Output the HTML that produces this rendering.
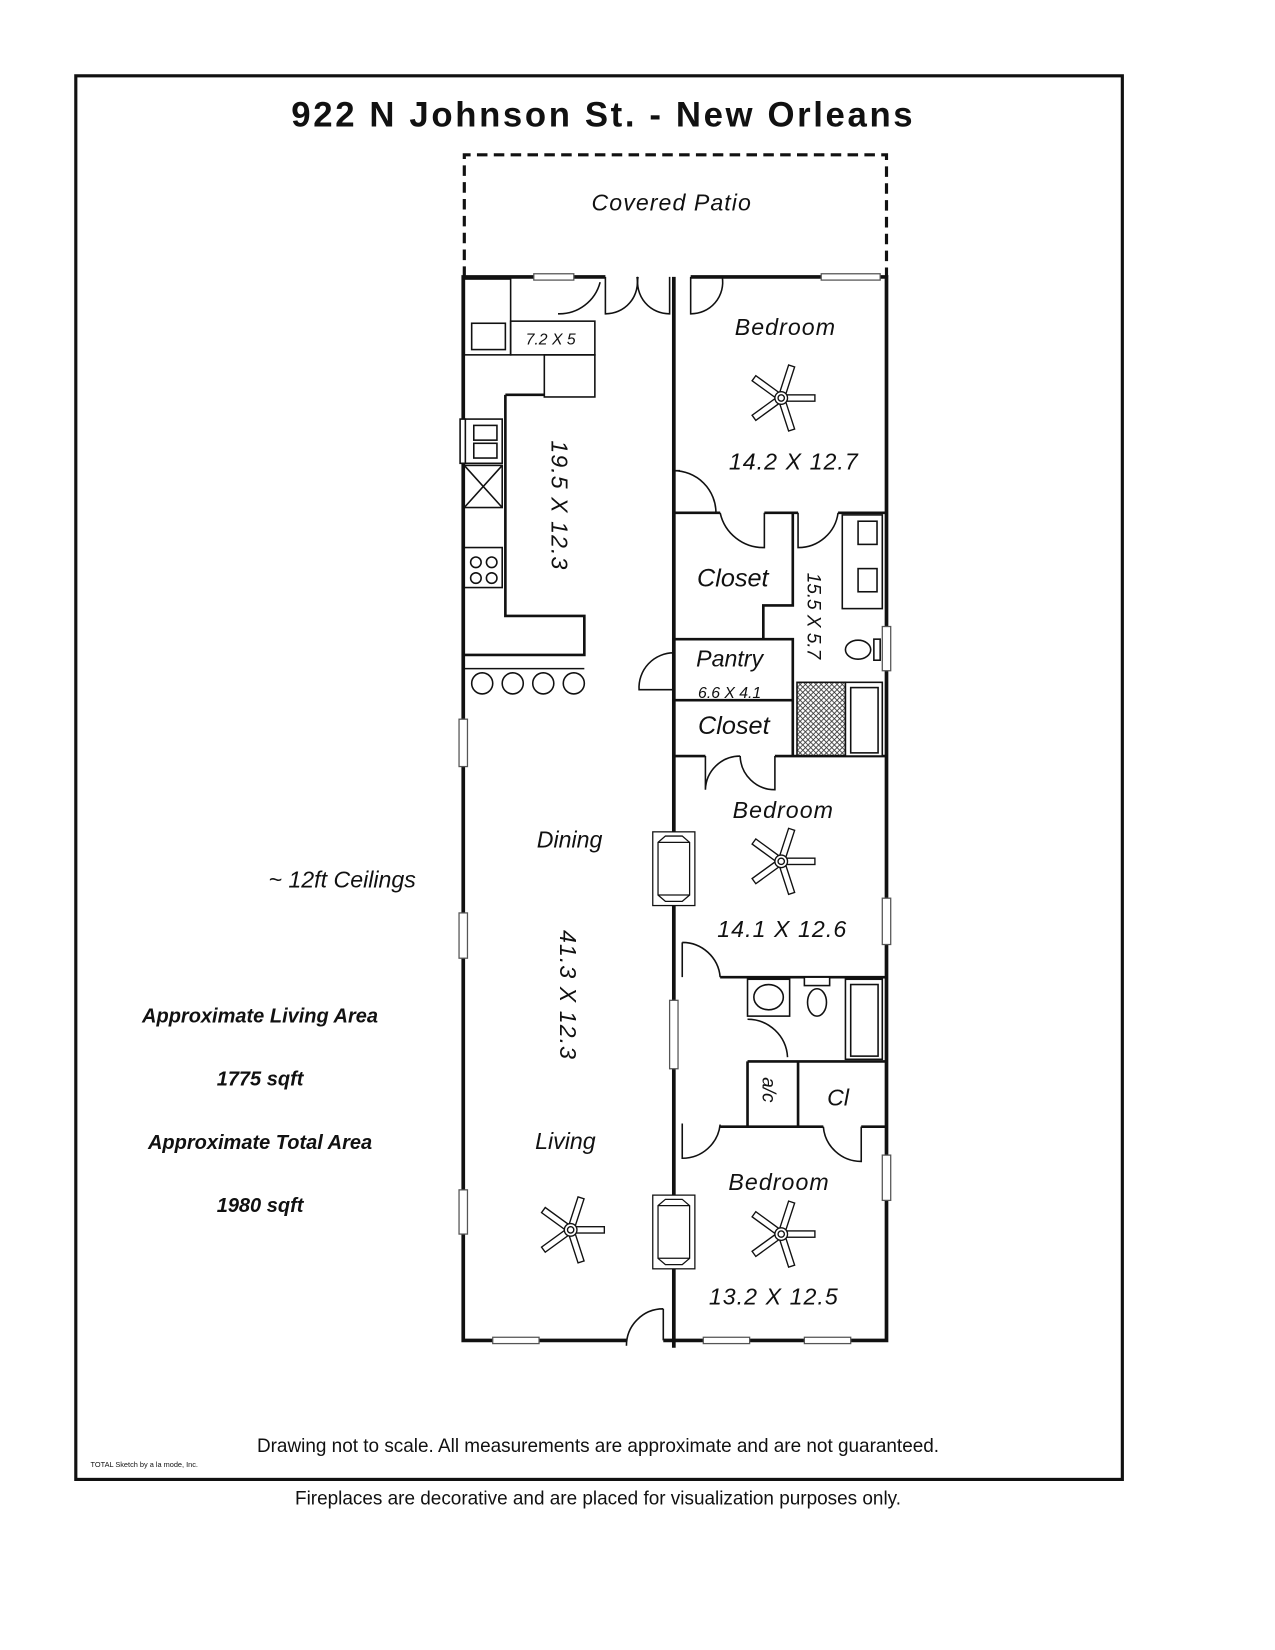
<!DOCTYPE html>
<html><head><meta charset="utf-8"><style>
html,body{margin:0;padding:0;background:#fff}
svg{display:block}
text{font-family:"Liberation Sans",sans-serif;fill:#111}
.h{font-style:italic}
</style></head><body>
<svg width="1275" height="1650" viewBox="0 0 1211 1567" preserveAspectRatio="none" xmlns="http://www.w3.org/2000/svg">
<defs>
<g id="fan" stroke="#111" stroke-width="1.3" fill="#fff">
<rect x="4" y="-3" width="28" height="6" transform="rotate(0)"/>
<rect x="4" y="-3" width="28" height="6" transform="rotate(72)"/>
<rect x="4" y="-3" width="28" height="6" transform="rotate(144)"/>
<rect x="4" y="-3" width="28" height="6" transform="rotate(216)"/>
<rect x="4" y="-3" width="28" height="6" transform="rotate(288)"/>
<circle r="6"/><circle r="3"/>
</g>
<g id="fp" stroke="#111" stroke-width="1.2" fill="#fff">
<rect x="0" y="0" width="40" height="70"/>
<path d="M5 10 L12 4 L28 4 L35 10 L35 60 L28 66 L12 66 L5 60 Z" fill="none"/>
<path d="M5 10 L35 10 M5 60 L35 60" fill="none"/>
</g>
<pattern id="tile" width="5" height="5" patternUnits="userSpaceOnUse">
<path d="M0 0L5 5M5 0L0 5" stroke="#333" stroke-width="0.8"/>
</pattern>
</defs>
<rect x="72" y="72" width="994" height="1333" fill="none" stroke="#111" stroke-width="3"/>
<text x="573" y="120" font-size="33" text-anchor="middle" font-weight="bold" letter-spacing="2.5">922 N Johnson St. - New Orleans</text>
<path d="M441 263 V147 H842 V263" fill="none" stroke="#111" stroke-width="3" stroke-dasharray="10 6"/>
<text x="638" y="200" font-size="22" text-anchor="middle" class="h" letter-spacing="1">Covered Patio</text>
<g stroke="#111" stroke-width="3.5" fill="none">
<path d="M575 263 H440 V1273 H595"/>
<path d="M630 1273 H842 V263 H656"/>
<path d="M640 263 V1280"/>
</g>
<g fill="#fff" stroke="#555" stroke-width="1.2">
<rect x="507" y="260" width="38" height="6"/>
<rect x="780" y="260" width="56" height="6"/>
<rect x="436" y="683" width="8" height="45"/>
<rect x="436" y="867" width="8" height="43"/>
<rect x="436" y="1130" width="8" height="42"/>
<rect x="468" y="1270" width="44" height="6"/>
<rect x="668" y="1270" width="44" height="6"/>
<rect x="764" y="1270" width="44" height="6"/>
<rect x="838" y="595" width="8" height="42"/>
<rect x="838" y="853" width="8" height="44"/>
<rect x="838" y="1097" width="8" height="43"/>
<rect x="636" y="950" width="8" height="65"/>
</g>
<g stroke="#111" stroke-width="1.5" fill="none">
<path d="M575 263 V298 A30 30 0 0 0 605 263"/>
<path d="M636 263 V298 A30 30 0 0 1 606 263"/>
<path d="M530 298 A40 40 0 0 0 570 268"/>
<path d="M656 263 V298 A30 30 0 0 0 686 263"/>
<path d="M640 447 A40 40 0 0 1 680 487 M640 447 H646"/>
<path d="M684 487 A42 42 0 0 0 726 520 V487"/>
<path d="M758 487 V520 A38 38 0 0 0 796 487"/>
<path d="M640 620 A33 33 0 0 0 607 655 H640"/>
<path d="M670 718 V750 A33 33 0 0 1 703 718 M736 718 V750 A33 33 0 0 1 703 718"/>
<path d="M648 895 V928 M648 895 A36 36 0 0 1 684 928"/>
<path d="M710 968 A38 38 0 0 1 748 1004"/>
<path d="M648 1067 V1100 A36 36 0 0 0 684 1068"/>
<path d="M818 1070 V1103 A36 36 0 0 1 782 1070"/>
<path d="M630 1243 V1273 M630 1243 A35 35 0 0 0 595 1278"/>
</g>
<g stroke="#111" stroke-width="2.5" fill="none">
<path d="M640 487 H684 M726 487 H758 M796 487 H842"/>
<path d="M753 487 V575 H725 V607"/>
<path d="M640 607 H753 V718"/>
<path d="M640 665 H753"/>
<path d="M640 718 H670 M736 718 H842"/>
<path d="M684 928 H842"/>
<path d="M710 1008 H842 M710 1008 V1070 M758 1008 V1070"/>
<path d="M684 1070 H782 M818 1070 H842"/>
<path d="M480 375 V585 H555 V622 H441 M480 375 H517"/>
</g>
<g stroke="#111" stroke-width="1.5" fill="#fff">
<rect x="441" y="265" width="44" height="72" fill="none"/>
<rect x="448" y="307" width="32" height="25"/>
<rect x="485" y="305" width="80" height="32" fill="none"/>
<rect x="517" y="337" width="48" height="40" fill="none"/>
<rect x="441" y="398" width="36" height="42"/>
<rect x="450" y="404" width="22" height="14"/><rect x="450" y="421" width="22" height="14"/>
<rect x="437" y="398" width="5" height="42"/>
<rect x="441" y="442" width="36" height="40"/>
<path d="M441 442 L477 482 M477 442 L441 482"/>
<rect x="441" y="520" width="36" height="38"/>
<circle cx="452" cy="534" r="5"/><circle cx="467" cy="534" r="5"/>
<circle cx="452" cy="549" r="5"/><circle cx="467" cy="549" r="5"/>
<path d="M441 635 H555" fill="none"/>
<circle cx="458" cy="649" r="10"/><circle cx="487" cy="649" r="10"/><circle cx="516" cy="649" r="10"/><circle cx="545" cy="649" r="10"/>
</g>
<g stroke="#111" stroke-width="1.5" fill="#fff">
<rect x="800" y="489" width="38" height="89" fill="none"/>
<rect x="815" y="495" width="18" height="22"/><rect x="815" y="540" width="18" height="22"/>
<ellipse cx="815" cy="617" rx="12" ry="9"/><rect x="830" y="607" width="6" height="20"/>
<rect x="757" y="648" width="46" height="70" fill="url(#tile)"/>
<rect x="803" y="648" width="35" height="70"/>
<rect x="808" y="653" width="26" height="62"/>
</g>
<g stroke="#111" stroke-width="1.5" fill="#fff">
<rect x="710" y="930" width="40" height="35"/>
<ellipse cx="730" cy="947" rx="14" ry="12"/>
<rect x="764" y="928" width="24" height="8"/>
<ellipse cx="776" cy="952" rx="9" ry="13"/>
<rect x="803" y="930" width="35" height="76"/>
<rect x="808" y="935" width="26" height="68"/>
</g>
<use href="#fp" x="620" y="790"/>
<use href="#fp" x="620" y="1135"/>
<use href="#fan" x="742" y="378"/>
<use href="#fan" x="742" y="818"/>
<use href="#fan" x="742" y="1172"/>
<use href="#fan" x="542" y="1168"/>
<g class="h" text-anchor="middle">
<text x="523" y="327" font-size="15">7.2 X 5</text>
<text x="746" y="318" font-size="22" letter-spacing="1">Bedroom</text>
<text x="754" y="446" font-size="22" letter-spacing="1">14.2 X 12.7</text>
<text x="696" y="557" font-size="24">Closet</text>
<text x="693" y="633" font-size="22">Pantry</text>
<text x="693" y="663" font-size="15">6.6 X 4.1</text>
<text x="697" y="697" font-size="24">Closet</text>
<text x="744" y="777" font-size="22" letter-spacing="1">Bedroom</text>
<text x="743" y="890" font-size="22" letter-spacing="1">14.1 X 12.6</text>
<text x="796" y="1050" font-size="22">Cl</text>
<text x="740" y="1130" font-size="22" letter-spacing="1">Bedroom</text>
<text x="735" y="1239" font-size="22" letter-spacing="1">13.2 X 12.5</text>
<text x="541" y="805" font-size="22">Dining</text>
<text x="537" y="1091" font-size="22">Living</text>
<text transform="translate(524 480) rotate(90)" font-size="22" letter-spacing="1">19.5 X 12.3</text>
<text transform="translate(532 945) rotate(90)" font-size="22" letter-spacing="1">41.3 X 12.3</text>
<text transform="translate(767 585) rotate(90)" font-size="18">15.5 X 5.7</text>
<text transform="translate(724 1035) rotate(90)" font-size="18">a/c</text>
<text x="325" y="843" font-size="22">~ 12ft Ceilings</text>
<text x="247" y="971" font-size="19" font-weight="bold">Approximate Living Area</text>
<text x="247" y="1031" font-size="19" font-weight="bold">1775 sqft</text>
<text x="247" y="1091" font-size="19" font-weight="bold">Approximate Total Area</text>
<text x="247" y="1151" font-size="19" font-weight="bold">1980 sqft</text>
</g>
<text x="568" y="1379" font-size="18" text-anchor="middle">Drawing not to scale.  All measurements are approximate and are not guaranteed.</text>
<text x="86" y="1393" font-size="7">TOTAL Sketch by a la mode, Inc.</text>
<text x="568" y="1429" font-size="18" text-anchor="middle">Fireplaces are decorative and are placed for visualization purposes only.</text>
</svg>
</body></html>
